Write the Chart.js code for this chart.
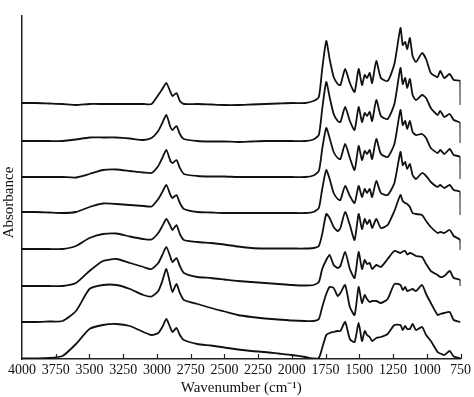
<!DOCTYPE html>
<html>
<head>
<meta charset="utf-8">
<script src="https://cdn.jsdelivr.net/npm/chart.js@4/dist/chart.umd.min.js"></script>
<style>
  html, body { margin: 0; padding: 0; background: #ffffff; }
  #wrap { width: 474px; height: 397px; position: relative; }
</style>
</head>
<body>
<div id="wrap"><canvas id="c" width="474" height="397"></canvas></div>
<script>
// Wavenumber grid (cm-1), descending
const wavenumbers = [4000,3900,3800,3700,3600,3500,3400,3300,3200,3100,3040,2990,2960,2930,2900,2885,2855,2830,2800,2700,2600,2500,2400,2300,2200,2100,2000,1900,1840,1800,1775,1745,1720,1690,1660,1640,1605,1570,1535,1505,1480,1460,1443,1423,1405,1374,1340,1290,1240,1195,1178,1160,1145,1125,1105,1080,1035,1005,970,920,900,870,830,800,752,750];

// Stacked absorbance traces (arbitrary units, offset), top to bottom
const spectrum1 = [256,256,255.5,255,254,255,255,255,255,255,255,264,270,276,267,263,266,258,255,255,254.5,254,254,254.5,255,255.5,256,256,258,262,290,318,300,282,275,274,290,276,267,290,274,284,281,286,276,298,281,278,295,331,314,317,310,321,303,297,306,300,286,282,288,281,285,279,278,254];
const spectrum2 = [218,218,218,218,219.5,221.5,221.5,221.5,220.5,219,221,228,236,244,232,229,233,225,220,218,217.5,217.5,217,217.5,218,218,218,218,219.5,224,250,277,262,245,238,237,252,238,229,252,237,246,243,247,238,259,243,240,255,291,275,281,271,280,264,259,264,261,251,244,248,242,245,239,236,216];
const spectrum3 = [182,182,182,182,181.5,185,189,189.5,188,186.5,186,193,201,209,198,196,199,191,185,183,182.5,182.5,182,182,182,182,182,182,183.5,188,210,231,221,207,201,200,215,201,189,213,199,208,205,209,200,220,205,202,215,249,234,238,230,238,227,224,225,221,211,206,209,205,210,204,202,180];
const spectrum4 = [147,147,146.5,146,147,152,155.5,155,154,153,152.5,160,167,174,164,161,164,156,150,147,146.5,146,146,146,146,146,146,146,147,151,170,189,180,166,160,159,173,163,156,173,162,170,166,170,162,178,166,164,176,207,194,197,190,195,184,180,186,183,177,172,174,171,174,169,167,144];
const spectrum5 = [110,110,110,110,113,121,125,125.5,122.5,120,119.5,126,133,140,133,129,134,125,119,117,116,114.5,112.5,111,110.5,110.5,110.5,110.5,111,113,125,145,141,132,128,131,147,134,119,145,130,140,135,139,131,140,131,134,148,164,158,156,155,152,146,145,144,138,132,126,127,126,129,123,119,109];
const spectrum6 = [73,73,73,73,76,88,98,100,96,92,90,96,104,112,102,97,101,93,86,82,81,79.5,78,77,76,75,74,73.5,74,77,90,99,104,94,91,93,107,90,81,107,90,99,95,96,90,94,92,100,108,106,107.5,108,104.5,106,105,103,102,95,88,84,82,83,88,81,79,73];
const spectrum7 = [37,37,37.5,38,48,70,74,74,70,64,62.5,68,78,90,74,67,75,66,59,55,51,47.5,44,42,40.5,39.5,38.5,38,38,40,52,65,72,71,63,66,74,52,44,72,56,64,60,57,58,58,56,60,75,74,69,72,68,69,70,68,74,65,56,44,45,46,47,39,37,37];
const spectrum8 = [0.7,0.7,1,3,15,30,34,35,33,27,24,26,32,40,31,27,31,24,19,15,13.5,11.5,9.5,8,7,5.5,4,2,0.5,1,11,24,26,27,28,28,37,20,17,36,18,28,24,22,18,21,22,25,34,34,29,33,30,30,35,29,32,24,18,7,5.5,4,8,2.5,0.7,0.7];

const spectra = [spectrum1, spectrum2, spectrum3, spectrum4, spectrum5, spectrum6, spectrum7, spectrum8];
const xTickStep = 250;
const xMin = 750, xMax = 4000;

const datasets = spectra.map((s, k) => ({
  label: 'S' + (k + 1),
  data: wavenumbers.map((w, i) => ({ x: w, y: s[i] })),
  borderColor: '#111111',
  borderWidth: 1.8,
  pointRadius: 0,
  fill: false,
  tension: 0.2
}));

const innerTicks = {
  id: 'innerTicks',
  afterDraw(chart) {
    const xs = chart.scales.x, ctx = chart.ctx;
    const yb = chart.chartArea.bottom;
    ctx.save();
    ctx.strokeStyle = '#222';
    ctx.lineWidth = 1.2;
    xs.ticks.forEach(t => {
      if (t.value === xMax) return;
      const px = Math.round(xs.getPixelForValue(t.value)) + 0.5;
      ctx.beginPath();
      ctx.moveTo(px, yb);
      ctx.lineTo(px, yb - 5);
      ctx.stroke();
    });
    ctx.restore();
  }
};

new Chart(document.getElementById('c'), {
  type: 'line',
  data: { datasets },
  options: {
    responsive: false,
    animation: false,
    devicePixelRatio: 1,
    layout: { padding: { top: 16, right: 11, left: 0, bottom: 0 } },
    plugins: { legend: { display: false }, tooltip: { enabled: false } },
    scales: {
      x: {
        type: 'linear',
        reverse: true,
        min: xMin,
        max: xMax,
        grid: { display: false, drawTicks: false },
        border: { display: true, color: '#222', width: 1.5 },
        ticks: {
          stepSize: xTickStep,
          color: '#111',
          padding: 3,
          maxRotation: 0,
          autoSkip: false,
          font: { family: 'Liberation Serif', size: 14 },
          callback: v => String(v)
        },
        title: {
          display: true,
          text: 'Wavenumber (cm\u207B\u00B9)',
          color: '#111',
          font: { family: 'Liberation Serif', size: 15 },
          padding: { top: 0, bottom: 0 }
        },
        afterFit(scale) { scale.height = 38; }
      },
      y: {
        min: 0,
        max: 343,
        grid: { display: false, drawTicks: false },
        border: { display: true, color: '#222', width: 1.5 },
        ticks: { display: false },
        title: {
          display: true,
          text: 'Absorbance' + '\u00A0'.repeat(8),
          color: '#111',
          font: { family: 'Liberation Serif', size: 15 },
          padding: { top: 0, bottom: 0 }
        },
        afterFit(scale) { scale.width = 22; }
      }
    }
  },
  plugins: [innerTicks]
});
</script>
</body>
</html>
